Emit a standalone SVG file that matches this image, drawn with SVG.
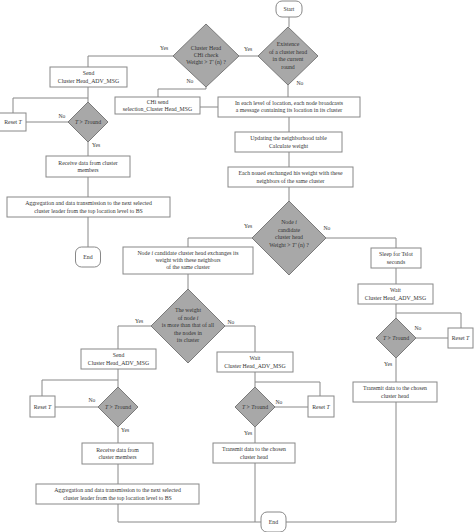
<svg xmlns="http://www.w3.org/2000/svg" width="474" height="532" viewBox="0 0 474 532">
<style>
text{font-family:"Liberation Serif","DejaVu Serif",serif;font-size:5.8px;fill:#333;text-anchor:middle}
.lb{font-size:5.6px}
.box{fill:#fff;stroke:#888;stroke-width:1}
.dia{fill:#a8a8a8;stroke:#7a7a7a;stroke-width:1}
.ln{fill:none;stroke:#888;stroke-width:1}
.i{font-style:italic}
</style>
<rect width="474" height="532" fill="#fff"/>
<g id="connectors">
<polyline class="ln" points="289,17 289,27"/>
<polyline class="ln" points="258,56 239,56"/>
<polyline class="ln" points="288,85 288,97"/>
<polyline class="ln" points="173,56 88,56 88,67"/>
<polyline class="ln" points="206,87 206,89 158,89 158,97"/>
<polyline class="ln" points="200,107 218,107"/>
<polyline class="ln" points="88,87 88,102"/>
<polyline class="ln" points="88,98 13,98 13,113"/>
<polyline class="ln" points="26,122 68,122"/>
<polyline class="ln" points="88,142 88,156"/>
<polyline class="ln" points="88,177 88,197"/>
<polyline class="ln" points="88,217 88,247"/>
<polyline class="ln" points="289,117 289,132"/>
<polyline class="ln" points="289,152 289,167"/>
<polyline class="ln" points="289,187 289,201"/>
<polyline class="ln" points="252,238 188,238 188,247"/>
<polyline class="ln" points="326,238 396,238 396,248"/>
<polyline class="ln" points="188,274 188,289"/>
<polyline class="ln" points="151,326 118,326 118,349"/>
<polyline class="ln" points="225,326 255,326 255,352"/>
<polyline class="ln" points="118,369 118,387"/>
<polyline class="ln" points="118,380 42,380 42,396"/>
<polyline class="ln" points="55,407 98,407"/>
<polyline class="ln" points="118,427 118,443"/>
<polyline class="ln" points="118,464 118,484"/>
<polyline class="ln" points="118,504 118,522 261,522"/>
<polyline class="ln" points="255,372 255,387"/>
<polyline class="ln" points="255,382 320,382 320,396"/>
<polyline class="ln" points="275,407 308,407"/>
<polyline class="ln" points="255,427 255,443"/>
<polyline class="ln" points="255,463 255,522"/>
<polyline class="ln" points="396,268 396,284"/>
<polyline class="ln" points="396,304 396,318"/>
<polyline class="ln" points="396,313 461,313 461,328"/>
<polyline class="ln" points="416,338 448,338"/>
<polyline class="ln" points="396,358 396,382"/>
<polyline class="ln" points="396,402 396,522 286,522"/>
</g>
<g id="labels">
<text class="lb" x="164" y="50">Yes</text>
<text class="lb" x="190" y="83">No</text>
<text class="lb" x="248" y="51">Yes</text>
<text class="lb" x="300" y="85">No</text>
<text class="lb" x="62" y="118">No</text>
<text class="lb" x="96" y="147">Yes</text>
<text class="lb" x="248" y="228">Yes</text>
<text class="lb" x="327" y="230">No</text>
<text class="lb" x="139" y="323">Yes</text>
<text class="lb" x="231" y="324">No</text>
<text class="lb" x="418" y="330">No</text>
<text class="lb" x="388" y="366">Yes</text>
<text class="lb" x="92" y="402">No</text>
<text class="lb" x="125" y="432">Yes</text>
<text class="lb" x="279" y="404">No</text>
<text class="lb" x="248" y="435">Yes</text>
</g>
<g id="start"><rect class="box" x="276" y="1" width="26" height="16" rx="6"/><text x="289" y="11">Start</text></g>
<g id="existence"><polygon class="dia" points="288,27 318,56 288,85 258,56"/>
<text x="288" y="46">Existence</text><text x="288" y="53.5">of a cluster head</text><text x="288" y="61">in the current</text><text x="288" y="68.5">round</text></g>
<g id="chcheck"><polygon class="dia" points="206,24 239,56 206,87 173,56"/>
<text x="206" y="50">Cluster Head</text><text x="206" y="57">CHi check</text><text x="206" y="64">Weight &gt; <tspan class="i">T'</tspan> (n) ?</text></g>
<g id="chisend"><rect class="box" x="115" y="97" width="85" height="17"/>
<text x="157.5" y="103.5">CHi send</text><text x="157.5" y="111">selection_Cluster Head_MSG</text></g>
<g id="broadcast"><rect class="box" x="218" y="97" width="142" height="20"/>
<text x="289" y="105">In each level of location, each node broadcasts</text><text x="289" y="112">a message containing its location in its cluster</text></g>
<g id="send1"><rect class="box" x="50" y="67" width="77" height="20"/>
<text x="88.5" y="75">Send</text><text x="88.5" y="82.5">Cluster Head_ADV_MSG</text></g>
<g id="reset1"><rect class="box" x="-1" y="113" width="27" height="18"/><text x="13" y="124">Reset <tspan class="i">T</tspan></text></g>
<g id="tround1"><polygon class="dia" points="88,102 108,122 88,142 68,122"/><text x="88" y="124"><tspan class="i">T</tspan> &gt; <tspan class="i">T</tspan>round</text></g>
<g id="receive1"><rect class="box" x="46" y="156" width="84" height="21"/>
<text x="88" y="164.5">Receive data from cluster</text><text x="88" y="172">members</text></g>
<g id="aggr1"><rect class="box" x="7" y="197" width="163" height="20"/>
<text x="88.5" y="205">Aggregation and data transmission to the next selected</text><text x="88.5" y="212.5">cluster leader from the top location level to BS</text></g>
<g id="end1"><rect class="box" x="75.5" y="247" width="25" height="20" rx="6"/><text x="88" y="259">End</text></g>
<g id="updating"><rect class="box" x="235" y="132" width="107" height="20"/>
<text x="288.5" y="140">Updating the neighborhood table</text><text x="288.5" y="147.5">Calculate weight</text></g>
<g id="exchange"><rect class="box" x="228" y="167" width="125" height="20"/>
<text x="290.5" y="175">Each noued exchanged his weight with these</text><text x="290.5" y="182.5">neighbors of the same cluster</text></g>
<g id="nodei"><polygon class="dia" points="289,201 326,238 289,275 252,238"/>
<text x="289" y="224"><tspan>Node </tspan><tspan class="i">i</tspan></text><text x="289" y="231.5">candidate</text><text x="289" y="239">cluster head</text><text x="289" y="246.5">Weight &gt; <tspan class="i">T'</tspan> (n) ?</text></g>
<g id="nodeibox"><rect class="box" x="123" y="247" width="130" height="27"/>
<text x="188" y="254.5">Node <tspan class="i">i</tspan> candidate cluster head exchanges its</text><text x="188" y="261.5">weight with these neighbors</text><text x="188" y="268.5">of the same cluster</text></g>
<g id="sleep"><rect class="box" x="371" y="248" width="50" height="20"/>
<text x="396" y="256">Sleep for Tslot</text><text x="396" y="263.5">seconds</text></g>
<g id="wait1"><rect class="box" x="358" y="284" width="75" height="20"/>
<text x="395.5" y="292">Wait</text><text x="395.5" y="299.5">Cluster Head_ADV_MSG</text></g>
<g id="tround2"><polygon class="dia" points="396,318 416,338 396,358 376,338"/><text x="396" y="340"><tspan class="i">T</tspan> &gt; <tspan class="i">T</tspan>round</text></g>
<g id="reset2"><rect class="box" x="448" y="328" width="25" height="20"/><text x="460.5" y="340">Reset <tspan class="i">T</tspan></text></g>
<g id="transmit1"><rect class="box" x="353" y="382" width="84" height="20"/>
<text x="395" y="390">Transmit data to the chosen</text><text x="395" y="397.5">cluster head</text></g>
<g id="weight"><polygon class="dia" points="188,289 225,326 188,363 151,326"/>
<text x="188" y="312">The weight</text><text x="188" y="319.5">of node <tspan class="i">i</tspan></text><text x="188" y="327">is more than that of all</text><text x="188" y="334.5">the nodes in</text><text x="188" y="342">its cluster</text></g>
<g id="send2"><rect class="box" x="81" y="349" width="75" height="20"/>
<text x="118.5" y="357">Send</text><text x="118.5" y="364.5">Cluster Head_ADV_MSG</text></g>
<g id="wait2"><rect class="box" x="217" y="352" width="76" height="20"/>
<text x="255" y="360">Wait</text><text x="255" y="367.5">Cluster Head_ADV_MSG</text></g>
<g id="reset3"><rect class="box" x="30" y="396" width="25" height="21"/><text x="42.5" y="409">Reset <tspan class="i">T</tspan></text></g>
<g id="tround3"><polygon class="dia" points="118,387 138,407 118,427 98,407"/><text x="118" y="409"><tspan class="i">T</tspan> &gt; <tspan class="i">T</tspan>round</text></g>
<g id="receive2"><rect class="box" x="82" y="443" width="71" height="21"/>
<text x="117.5" y="451.5">Receive data from</text><text x="117.5" y="459">cluster members</text></g>
<g id="aggr2"><rect class="box" x="36" y="484" width="163" height="20"/>
<text x="117.5" y="492">Aggregation and data transmission to the next selected</text><text x="117.5" y="499.5">cluster leader from the top location level to BS</text></g>
<g id="tround4"><polygon class="dia" points="255,387 275,407 255,427 235,407"/><text x="255" y="409"><tspan class="i">T</tspan> &gt; <tspan class="i">T</tspan>round</text></g>
<g id="reset4"><rect class="box" x="308" y="396" width="26" height="21"/><text x="321" y="409">Reset <tspan class="i">T</tspan></text></g>
<g id="transmit2"><rect class="box" x="213" y="443" width="82" height="20"/>
<text x="254" y="451">Transmit data to the chosen</text><text x="254" y="458.5">cluster head</text></g>
<g id="end2"><rect class="box" x="261" y="512" width="25" height="20" rx="6"/><text x="273.5" y="524">End</text></g>
</svg>
